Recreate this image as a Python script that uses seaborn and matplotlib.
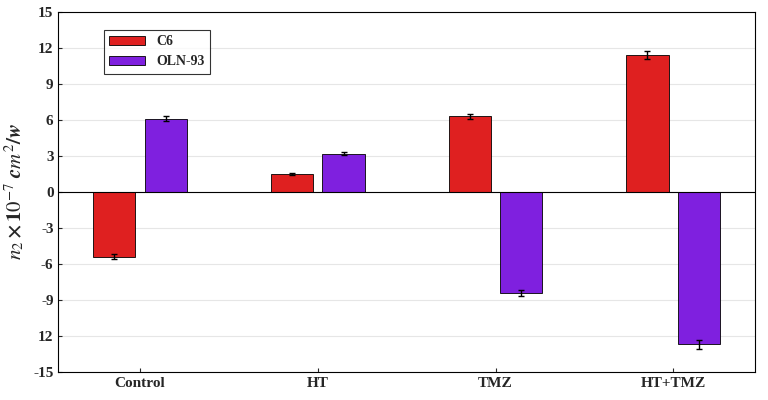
import matplotlib
matplotlib.use("Agg")
import matplotlib.pyplot as plt
import seaborn as sns
import pandas as pd
import numpy as np

categories = ["Control", "HT", "TMZ", "HT+TMZ"]
series = ["C6", "OLN-93"]
c6_vals = [-5.4, 1.5, 6.3, 11.4]
oln_vals = [6.1, 3.2, -8.4, -12.7]
c6_err = [0.2, 0.1, 0.2, 0.35]
oln_err = [0.2, 0.1, 0.25, 0.35]
yticks = [-15, -12, -9, -6, -3, 0, 3, 6, 9, 12, 15]
ytick_labels = ["-15", "12", "-9", "-6", "-3", "0", "3", "6", "9", "12", "15"]
colors = ["#ff0000", "#7f00ff"]

df = pd.DataFrame({
    "cat": categories * 2,
    "series": [series[0]] * 4 + [series[1]] * 4,
    "val": c6_vals + oln_vals,
    "err": c6_err + oln_err,
})

sns.set_style("white")
plt.rcParams["font.family"] = ["Liberation Serif", "DejaVu Serif"]
plt.rcParams["mathtext.fontset"] = "stix"

fig = plt.figure(figsize=(7.68, 4.0), dpi=100)
ax = fig.add_axes([0.076, 0.07, 0.907, 0.9])
sns.barplot(data=df, x="cat", y="val", hue="series", palette=colors,
            width=0.58, gap=0.18, edgecolor="black", linewidth=0.6,
            errorbar=None, ax=ax, zorder=3)

# error bars at bar centers
for cont, errs in zip(ax.containers, [c6_err, oln_err]):
    for patch, e in zip(cont, errs):
        x = patch.get_x() + patch.get_width() / 2
        y = patch.get_y() + patch.get_height()
        ax.errorbar(x, y, yerr=e, color="black", capsize=2.5, lw=1, zorder=4)

ax.set_ylim(-15, 15)
ax.set_xlim(-0.46, 3.46)
ax.set_yticks(yticks)
ax.set_yticklabels(ytick_labels, fontweight="bold", fontsize=11)
for lab in ax.get_xticklabels():
    lab.set_fontweight("bold"); lab.set_fontsize(11)
ax.yaxis.grid(True, color="#e6e6e6", lw=0.8, zorder=0)
ax.axhline(0, color="black", lw=0.8, zorder=3)
ax.set_xlabel("")
ax.set_ylabel(r"$\boldsymbol{n_2\times10^{-7}\ cm^2/w}$", fontsize=15)
for s in ax.spines.values():
    s.set_color("black"); s.set_linewidth(0.8)
ax.tick_params(axis="both", direction="in", length=3, left=True, bottom=True)

leg = ax.legend(loc="upper left", bbox_to_anchor=(0.055, 0.97), frameon=True,
                fancybox=False, edgecolor="black", prop={"weight": "bold", "size": 10},
                handlelength=2.6, borderpad=0.4)
leg.get_frame().set_linewidth(0.8)

fig.savefig("out.png", dpi=100)
